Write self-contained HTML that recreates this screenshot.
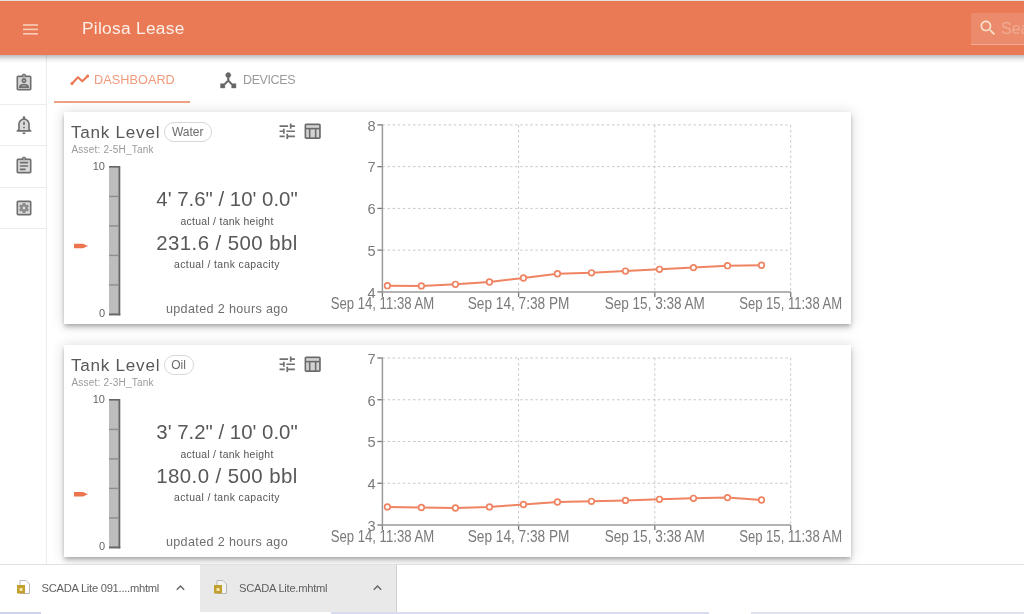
<!DOCTYPE html>
<html><head><meta charset="utf-8">
<style>
*{box-sizing:border-box;margin:0;padding:0}
html,body{width:1024px;height:614px;overflow:hidden;background:#fff;font-family:"Liberation Sans",sans-serif;color:#444}
.abs{position:absolute}
#topline{left:0;top:0;width:1024px;height:1px;background:#e4e1de;z-index:6}
#hdr{left:0;top:1px;width:1024px;height:54.4px;background:#ea7a56;z-index:5}
#hdrsh{left:-30px;top:1px;width:1084px;height:54.4px;background:#ea7a56;box-shadow:0 2px 4px -1px rgba(0,0,0,.18),0 4px 5px 0 rgba(0,0,0,.12),0 1px 10px 0 rgba(0,0,0,.10);z-index:4}
#title{left:82px;top:17.4px;font-size:17.3px;letter-spacing:.3px;color:#fcefe8;white-space:nowrap;line-height:20px}
#search{left:971px;top:12px;width:60px;height:31.6px;background:rgba(255,255,255,.13);border-radius:3px 3px 0 0;border-bottom:1.5px solid rgba(255,255,255,.28)}
#stext{left:1001px;top:18.7px;font-size:16px;color:rgba(255,255,255,.28);line-height:18px}
#side{left:0;top:55px;width:47px;height:509px;border-right:1px solid #ececec}
.sdiv{position:absolute;left:0;width:46px;height:1px;background:#ececec}
.card{position:absolute;left:64px;width:787px;height:213px;background:#fff;box-shadow:0 2px 4px -1px rgba(0,0,0,.2),0 4px 5px 0 rgba(0,0,0,.14),0 1px 12px 1px rgba(0,0,0,.14)}
.t{position:absolute;white-space:nowrap}
.ttl{left:7px;top:11.3px;font-size:17.1px;color:#585858;letter-spacing:.75px;line-height:20px}
.badge{left:99.5px;top:10.3px;width:48.5px;height:20px;border:1px solid #d8d8d8;border-radius:10px;font-size:12px;color:#6a6a6a;text-align:center;line-height:18px}
.asset{left:7.5px;top:32.2px;font-size:10px;color:#9a9a9a;letter-spacing:.2px;line-height:12px}
.big{left:63px;width:200px;text-align:center;font-size:20.4px;color:#585858;line-height:24px}
.small{left:63px;width:200px;text-align:center;font-size:10.4px;color:#555;line-height:12px;letter-spacing:.3px}
.upd{left:63px;width:200px;text-align:center;font-size:12.6px;color:#6e6e6e;line-height:14px;letter-spacing:.35px}
.glab{font-size:11px;color:#666;line-height:12px;text-align:right;width:20px}
#dl{left:0;top:564px;width:1024px;height:50px;background:#fff;border-top:1px solid #e0e0e0}
.dlt{font-size:11.2px;color:#606060;line-height:13px;letter-spacing:-.27px}
</style></head>
<body>
<div id="root" style="position:absolute;left:0;top:0;width:1024px;height:614px;overflow:hidden;filter:blur(0.5px)">
<div class="abs" id="topline"></div>
<div class="abs" id="hdrsh"></div>
<div class="abs" id="hdr">
  <svg class="abs" style="left:22.8px;top:21.85px" width="15.5" height="13" viewBox="0 0 15.5 13"><rect x="0" y="1.2" width="15.5" height="1.6" fill="#f8cdb8"/><rect x="0" y="5.6" width="15.5" height="1.6" fill="#f8cdb8"/><rect x="0" y="10" width="15.5" height="1.6" fill="#f8cdb8"/></svg>
  <div class="abs" id="title">Pilosa Lease</div>
  <div class="abs" id="search"></div>
  <svg class="abs" style="left:978px;top:16.5px" width="20" height="20" viewBox="0 0 24 24"><path fill="#fbe0cc" d="M15.5 14h-.79l-.28-.27C15.41 12.59 16 11.11 16 9.5 16 5.91 13.09 3 9.5 3S3 5.91 3 9.5 5.91 16 9.5 16c1.61 0 3.09-.59 4.23-1.57l.27.28v.79l5 4.99L20.49 19l-4.99-5zm-6 0C7.01 14 5 11.990 5 9.5S7.01 5 9.5 5 14 7.01 14 9.5 11.99 14 9.5 14z"/></svg>
  <div class="abs" id="stext">Sea</div>
</div>

<div class="abs" id="side">
  <div class="sdiv" style="top:49px"></div>
  <div class="sdiv" style="top:90px"></div>
  <div class="sdiv" style="top:132px"></div>
  <div class="sdiv" style="top:173px"></div>
</div>
<!-- sidebar icons -->
<svg class="abs" style="left:14px;top:73px" width="20" height="20" viewBox="0 0 24 24"><path fill="#d4d4d4" d="M5 5h14v14H5z"/><path fill="#6e6e6e" d="M19 3h-4.18C14.4 1.84 13.3 1 12 1s-2.4.84-2.82 2H5c-1.1 0-2 .9-2 2v14c0 1.1.9 2 2 2h14c1.1 0 2-.9 2-2V5c0-1.1-.9-2-2-2zm-7-.25c.41 0 .75.34.75.75s-.34.75-.75.75-.75-.34-.75-.75.34-.75.75-.75zM19 19H5V5h14v14zM12 12c1.65 0 3-1.35 3-3s-1.35-3-3-3-3 1.35-3 3 1.35 3 3 3zm0-4c.55 0 1 .45 1 1s-.45 1-1 1-1-.45-1-1 .45-1 1-1zm6 8.58c0-2.5-3.97-3.58-6-3.58s-6 1.08-6 3.58V18h12v-1.42zM8.480 16c.74-.51 2.23-1 3.52-1s2.78.49 3.52 1H8.48z"/></svg>
<svg class="abs" style="left:14px;top:115.3px" width="20" height="20" viewBox="0 0 24 24"><path fill="#dadada" d="M12 6c2.76 0 5 2.24 5 5v7H7v-7c0-2.76 2.24-5 5-5z"/><path fill="#6e6e6e" d="M10.01 21.01c0 1.1.89 1.99 1.99 1.99s1.99-.89 1.99-1.990h-3.98zM12 6c2.76 0 5 2.24 5 5v7H7v-7c0-2.76 2.24-5 5-5zm0-4.5c-.83 0-1.5.67-1.5 1.5v1.17C7.36 4.85 5 7.65 5 11v6l-2 2v1h18v-1l-2-2v-6c0-3.35-2.36-6.150-5.5-6.830V3c0-.83-.67-1.5-1.5-1.5zM11 8h2v4h-2zm0 6h2v2h-2z"/></svg>
<svg class="abs" style="left:14px;top:156px" width="20" height="20" viewBox="0 0 24 24"><path fill="#dadada" d="M5 5h14v14H5z"/><path fill="#6e6e6e" d="M7 15h7v2H7zm0-4h10v2H7zm0-4h10v2H7zm12-4h-4.18C14.4 1.84 13.3 1 12 1c-1.3 0-2.4.84-2.82 2H5c-1.1 0-2 .9-2 2v14c0 1.1.9 2 2 2h14c1.1 0 2-.9 2-2V5c0-1.1-.9-2-2-2zm-7-.25c.41 0 .75.34.75.75s-.34.75-.75.75-.75-.34-.75-.75.34-.75.75-.75zM19 19H5V5h14v14z"/></svg>
<svg class="abs" style="left:14px;top:197.5px" width="20" height="20" viewBox="0 0 24 24"><path fill="#dadada" d="M5 5h14v14H5z"/><path fill="#8a8a8a" d="M6.21 13.97l1.2 2.07c.08.13.23.18.37.13l1.49-.6c.31.24.64.44 1.01.59l.22 1.59c.03.14.15.25.3.25h2.4c.15 0 .27-.11.3-.26l.22-1.59c.36-.15.7-.35 1.01-.59l1.49.6c.14.05.29 0 .37-.13l1.2-2.07c.08-.13.04-.29-.07-.39l-1.27-.99c.03-.19.04-.39.04-.58 0-.2-.02-.39-.04-.59l1.27-.99c.11-.09.15-.26.07-.39l-1.2-2.07c-.08-.13-.23-.18-.37-.13l-1.49.6c-.31-.24-.64-.44-1.01-.59l-.22-1.59c-.03-.14-.15-.25-.3-.25h-2.4c-.15 0-.27.11-.3.26l-.22 1.59c-.36.15-.71.34-1.01.58l-1.49-.6c-.14-.05-.29 0-.37.13l-1.2 2.07c-.08.13-.04.29.07.39l1.27.99c-.03.2-.05.39-.05.59 0 .2.02.39.04.59l-1.27.99c-.11.1-.14.26-.06.39zM12 10.29c.94 0 1.71.77 1.71 1.71s-.77 1.71-1.71 1.71-1.71-.77-1.71-1.71.77-1.71 1.710-1.71z"/><path fill="#6e6e6e" d="M19 3H5c-1.11 0-2 .9-2 2v14c0 1.1.89 2 2 2h14c1.11 0 2-.9 2-2V5c0-1.1-.89-2-2-2zm0 16H5V5h14v14z"/></svg>

<!-- tabs -->
<svg class="abs" style="left:0;top:0" width="100" height="100"><path d="M72 83.4L78 77.3 82.3 81.2 87.7 76" fill="none" stroke="#ec7652" stroke-width="2.1" stroke-linecap="round" stroke-linejoin="round"/><circle cx="72" cy="83.4" r="1.5" fill="#ec7652"/><circle cx="87.7" cy="76" r="1.5" fill="#ec7652"/></svg>
<div class="t" style="left:94px;top:73px;font-size:12.7px;color:#f09a7c;line-height:14px;letter-spacing:.05px">DASHBOARD</div>
<div class="abs" style="left:54px;top:100.9px;width:136px;height:2.2px;background:#f0a083"></div>
<svg class="abs" style="left:218.4px;top:69.8px" width="20.5" height="20.5" viewBox="0 0 24 24"><path fill="#666" stroke="#666" stroke-width=".5" d="M17 16l-4-4V8.82C14.16 8.4 15 7.3 15 6c0-1.66-1.34-3-3-3S9 4.34 9 6c0 1.3.84 2.4 2 2.82V12l-4 4H3v5h5v-3.05l4-4.2 4 4.2V21h5v-5h-4z"/></svg>
<div class="t" style="left:243px;top:73px;font-size:12.5px;color:#9a9a9a;line-height:14px;letter-spacing:-.4px">DEVICES</div>

<!-- CARD 1 -->
<div class="card" style="top:111.8px;height:212.5px">
  <div class="t ttl">Tank Level</div>
  <div class="t badge">Water</div>
  <div class="t asset">Asset: 2-5H_Tank</div>
  <svg class="abs" style="left:213px;top:9.5px" width="20.5" height="20.5" viewBox="0 0 24 24"><path fill="#707070" d="M3 17v2h6v-2H3zM3 5v2h10V5H3zm10 16v-2h8v-2h-8v-2h-2v6h2zM7 9v2H3v2h4v2h2V9H7zm14 4v-2H11v2h10zm-6-4h2V7h4V5h-4V3h-2v6z"/></svg>
  <svg class="abs" style="left:238px;top:9.5px" width="20.5" height="20.5" viewBox="0 0 24 24"><path fill="#d2d2d2" d="M5 5h15v3H5zm0 5h3v9H5zm5 0h5v9h-5zm7 0h3v9h-3z"/><path fill="#6a6a6a" d="M20 3H5c-1.1 0-2 .9-2 2v14c0 1.1.9 2 2 2h15c1.1 0 2-.9 2-2V5c0-1.1-.9-2-2-2zm0 2v3H5V5h15zm-5 14h-5v-9h5v9zM5 10h3v9H5v-9zm12 9v-9h3v9h-3z"/></svg>
  <!-- gauge -->
  <div class="t glab" style="left:21px;top:48.5px">10</div>
  <div class="t glab" style="left:21px;top:195.5px">0</div>
  <svg class="abs" style="left:0;top:0" width="60" height="213"><rect x="45" y="54.5" width="11" height="149" fill="#bdbdbd"/><rect x="45" y="54" width="11" height="1.6" fill="#666"/><rect x="45" y="201.5" width="11.3" height="1.8" fill="#666"/><rect x="54.5" y="54" width="1.8" height="149.3" fill="#666"/><g fill="#8e8e8e"><rect x="45" y="83.7" width="10" height="1.4"/><rect x="45" y="113.2" width="10" height="1.4"/><rect x="45" y="142.7" width="10" height="1.4"/><rect x="45" y="172.2" width="10" height="1.4"/></g><path d="M10 131.8h9l5 2.2-5 2.2h-9z" fill="#ec7550"/></svg>
  <div class="t big" style="top:75.7px">4' 7.6" / 10' 0.0"</div>
  <div class="t small" style="top:104px">actual / tank height</div>
  <div class="t big" style="top:119px;letter-spacing:.45px">231.6 / 500 bbl</div>
  <div class="t small" style="top:147px;letter-spacing:.4px">actual / tank capacity</div>
  <div class="t upd" style="top:190.5px">updated 2 hours ago</div>
</div>

<!-- CARD 2 -->
<div class="card" style="top:344.6px;height:212.5px">
  <div class="t ttl">Tank Level</div>
  <div class="t badge" style="width:30px">Oil</div>
  <div class="t asset">Asset: 2-3H_Tank</div>
  <svg class="abs" style="left:213px;top:9.5px" width="20.5" height="20.5" viewBox="0 0 24 24"><path fill="#707070" d="M3 17v2h6v-2H3zM3 5v2h10V5H3zm10 16v-2h8v-2h-8v-2h-2v6h2zM7 9v2H3v2h4v2h2V9H7zm14 4v-2H11v2h10zm-6-4h2V7h4V5h-4V3h-2v6z"/></svg>
  <svg class="abs" style="left:238px;top:9.5px" width="20.5" height="20.5" viewBox="0 0 24 24"><path fill="#d2d2d2" d="M5 5h15v3H5zm0 5h3v9H5zm5 0h5v9h-5zm7 0h3v9h-3z"/><path fill="#6a6a6a" d="M20 3H5c-1.1 0-2 .9-2 2v14c0 1.1.9 2 2 2h15c1.1 0 2-.9 2-2V5c0-1.1-.9-2-2-2zm0 2v3H5V5h15zm-5 14h-5v-9h5v9zM5 10h3v9H5v-9zm12 9v-9h3v9h-3z"/></svg>
  <div class="t glab" style="left:21px;top:48.5px">10</div>
  <div class="t glab" style="left:21px;top:195.5px">0</div>
  <svg class="abs" style="left:0;top:0" width="60" height="213"><rect x="45" y="54.5" width="11" height="149" fill="#bdbdbd"/><rect x="45" y="54" width="11" height="1.6" fill="#666"/><rect x="45" y="201.5" width="11.3" height="1.8" fill="#666"/><rect x="54.5" y="54" width="1.8" height="149.3" fill="#666"/><g fill="#8e8e8e"><rect x="45" y="83.7" width="10" height="1.4"/><rect x="45" y="113.2" width="10" height="1.4"/><rect x="45" y="142.7" width="10" height="1.4"/><rect x="45" y="172.2" width="10" height="1.4"/></g><path d="M10 147.1h9l5 2.2-5 2.2h-9z" fill="#ec7550"/></svg>
  <div class="t big" style="top:75.7px">3' 7.2" / 10' 0.0"</div>
  <div class="t small" style="top:104px">actual / tank height</div>
  <div class="t big" style="top:119px;letter-spacing:.45px">180.0 / 500 bbl</div>
  <div class="t small" style="top:147px;letter-spacing:.4px">actual / tank capacity</div>
  <div class="t upd" style="top:190.5px">updated 2 hours ago</div>
</div>

<!-- CHARTS (page coords) -->
<svg class="abs" style="left:0;top:0;z-index:2" width="1024" height="614" id="charts"><g><line x1="377.4" y1="291.9" x2="382.4" y2="291.9" stroke="#777" stroke-width="1.3"></line><text x="375.7" y="297.7" text-anchor="end" font-size="14.6" fill="#7a7a7a" font-family="Liberation Sans">4</text><line x1="382.4" y1="250.15" x2="790.7" y2="250.15" stroke="#c8c8c8" stroke-width="1" stroke-dasharray="2.5,2.6"></line><line x1="377.4" y1="250.15" x2="382.4" y2="250.15" stroke="#777" stroke-width="1.3"></line><text x="375.7" y="255.95" text-anchor="end" font-size="14.6" fill="#7a7a7a" font-family="Liberation Sans">5</text><line x1="382.4" y1="208.4" x2="790.7" y2="208.4" stroke="#c8c8c8" stroke-width="1" stroke-dasharray="2.5,2.6"></line><line x1="377.4" y1="208.4" x2="382.4" y2="208.4" stroke="#777" stroke-width="1.3"></line><text x="375.7" y="214.2" text-anchor="end" font-size="14.6" fill="#7a7a7a" font-family="Liberation Sans">6</text><line x1="382.4" y1="166.65" x2="790.7" y2="166.65" stroke="#c8c8c8" stroke-width="1" stroke-dasharray="2.5,2.6"></line><line x1="377.4" y1="166.65" x2="382.4" y2="166.65" stroke="#777" stroke-width="1.3"></line><text x="375.7" y="172.45" text-anchor="end" font-size="14.6" fill="#7a7a7a" font-family="Liberation Sans">7</text><line x1="382.4" y1="124.9" x2="790.7" y2="124.9" stroke="#c8c8c8" stroke-width="1" stroke-dasharray="2.5,2.6"></line><line x1="377.4" y1="124.9" x2="382.4" y2="124.9" stroke="#777" stroke-width="1.3"></line><text x="375.7" y="130.7" text-anchor="end" font-size="14.6" fill="#7a7a7a" font-family="Liberation Sans">8</text><line x1="382.4" y1="291.9" x2="382.4" y2="296.9" stroke="#777" stroke-width="1.3"></line><text x="330.65" y="308.7" font-size="15.8" fill="#7a7a7a" font-family="Liberation Sans" textLength="103.5" lengthAdjust="spacingAndGlyphs">Sep 14, 11:38 AM</text><line x1="518.6" y1="124.9" x2="518.6" y2="291.9" stroke="#c8c8c8" stroke-width="1" stroke-dasharray="2.5,2.6"></line><line x1="518.6" y1="291.9" x2="518.6" y2="296.9" stroke="#777" stroke-width="1.3"></line><text x="467.7" y="308.7" font-size="15.8" fill="#7a7a7a" font-family="Liberation Sans" textLength="101.8" lengthAdjust="spacingAndGlyphs">Sep 14, 7:38 PM</text><line x1="654.8" y1="124.9" x2="654.8" y2="291.9" stroke="#c8c8c8" stroke-width="1" stroke-dasharray="2.5,2.6"></line><line x1="654.8" y1="291.9" x2="654.8" y2="296.9" stroke="#777" stroke-width="1.3"></line><text x="604.7" y="308.7" font-size="15.8" fill="#7a7a7a" font-family="Liberation Sans" textLength="100.2" lengthAdjust="spacingAndGlyphs">Sep 15, 3:38 AM</text><line x1="790.7" y1="124.9" x2="790.7" y2="291.9" stroke="#c8c8c8" stroke-width="1" stroke-dasharray="2.5,2.6"></line><line x1="790.7" y1="291.9" x2="790.7" y2="296.9" stroke="#777" stroke-width="1.3"></line><text x="739.2" y="308.7" font-size="15.8" fill="#7a7a7a" font-family="Liberation Sans" textLength="103" lengthAdjust="spacingAndGlyphs">Sep 15, 11:38 AM</text><line x1="382.4" y1="124.4" x2="382.4" y2="292.6" stroke="#9a9a9a" stroke-width="1.5"></line><line x1="381.7" y1="291.9" x2="790.7" y2="291.9" stroke="#9a9a9a" stroke-width="1.5"></line><path d="M387.40 285.7L421.41 285.9L455.42 284.3L489.43 282L523.44 278L557.45 273.75L591.46 272.8L625.47 271.05L659.48 269.3L693.49 267.6L727.50 265.7L761.51 265.25" fill="none" stroke="#ef8462" stroke-width="2" stroke-linejoin="round"></path><circle cx="387.4" cy="285.7" r="2.8" fill="#fff" stroke="#ef8462" stroke-width="1.7"></circle><circle cx="421.41" cy="285.9" r="2.8" fill="#fff" stroke="#ef8462" stroke-width="1.7"></circle><circle cx="455.42" cy="284.3" r="2.8" fill="#fff" stroke="#ef8462" stroke-width="1.7"></circle><circle cx="489.43" cy="282" r="2.8" fill="#fff" stroke="#ef8462" stroke-width="1.7"></circle><circle cx="523.44" cy="278" r="2.8" fill="#fff" stroke="#ef8462" stroke-width="1.7"></circle><circle cx="557.45" cy="273.75" r="2.8" fill="#fff" stroke="#ef8462" stroke-width="1.7"></circle><circle cx="591.46" cy="272.8" r="2.8" fill="#fff" stroke="#ef8462" stroke-width="1.7"></circle><circle cx="625.47" cy="271.05" r="2.8" fill="#fff" stroke="#ef8462" stroke-width="1.7"></circle><circle cx="659.48" cy="269.3" r="2.8" fill="#fff" stroke="#ef8462" stroke-width="1.7"></circle><circle cx="693.49" cy="267.6" r="2.8" fill="#fff" stroke="#ef8462" stroke-width="1.7"></circle><circle cx="727.5" cy="265.7" r="2.8" fill="#fff" stroke="#ef8462" stroke-width="1.7"></circle><circle cx="761.51" cy="265.25" r="2.8" fill="#fff" stroke="#ef8462" stroke-width="1.7"></circle></g><g><line x1="377.4" y1="525" x2="382.4" y2="525" stroke="#777" stroke-width="1.3"></line><text x="375.7" y="530.8" text-anchor="end" font-size="14.6" fill="#7a7a7a" font-family="Liberation Sans">3</text><line x1="382.4" y1="483.25" x2="790.7" y2="483.25" stroke="#c8c8c8" stroke-width="1" stroke-dasharray="2.5,2.6"></line><line x1="377.4" y1="483.25" x2="382.4" y2="483.25" stroke="#777" stroke-width="1.3"></line><text x="375.7" y="489.05" text-anchor="end" font-size="14.6" fill="#7a7a7a" font-family="Liberation Sans">4</text><line x1="382.4" y1="441.5" x2="790.7" y2="441.5" stroke="#c8c8c8" stroke-width="1" stroke-dasharray="2.5,2.6"></line><line x1="377.4" y1="441.5" x2="382.4" y2="441.5" stroke="#777" stroke-width="1.3"></line><text x="375.7" y="447.3" text-anchor="end" font-size="14.6" fill="#7a7a7a" font-family="Liberation Sans">5</text><line x1="382.4" y1="399.75" x2="790.7" y2="399.75" stroke="#c8c8c8" stroke-width="1" stroke-dasharray="2.5,2.6"></line><line x1="377.4" y1="399.75" x2="382.4" y2="399.75" stroke="#777" stroke-width="1.3"></line><text x="375.7" y="405.55" text-anchor="end" font-size="14.6" fill="#7a7a7a" font-family="Liberation Sans">6</text><line x1="382.4" y1="358" x2="790.7" y2="358" stroke="#c8c8c8" stroke-width="1" stroke-dasharray="2.5,2.6"></line><line x1="377.4" y1="358" x2="382.4" y2="358" stroke="#777" stroke-width="1.3"></line><text x="375.7" y="363.8" text-anchor="end" font-size="14.6" fill="#7a7a7a" font-family="Liberation Sans">7</text><line x1="382.4" y1="525" x2="382.4" y2="530" stroke="#777" stroke-width="1.3"></line><text x="330.65" y="541.8" font-size="15.8" fill="#7a7a7a" font-family="Liberation Sans" textLength="103.5" lengthAdjust="spacingAndGlyphs">Sep 14, 11:38 AM</text><line x1="518.6" y1="358" x2="518.6" y2="525" stroke="#c8c8c8" stroke-width="1" stroke-dasharray="2.5,2.6"></line><line x1="518.6" y1="525" x2="518.6" y2="530" stroke="#777" stroke-width="1.3"></line><text x="467.7" y="541.8" font-size="15.8" fill="#7a7a7a" font-family="Liberation Sans" textLength="101.8" lengthAdjust="spacingAndGlyphs">Sep 14, 7:38 PM</text><line x1="654.8" y1="358" x2="654.8" y2="525" stroke="#c8c8c8" stroke-width="1" stroke-dasharray="2.5,2.6"></line><line x1="654.8" y1="525" x2="654.8" y2="530" stroke="#777" stroke-width="1.3"></line><text x="604.7" y="541.8" font-size="15.8" fill="#7a7a7a" font-family="Liberation Sans" textLength="100.2" lengthAdjust="spacingAndGlyphs">Sep 15, 3:38 AM</text><line x1="790.7" y1="358" x2="790.7" y2="525" stroke="#c8c8c8" stroke-width="1" stroke-dasharray="2.5,2.6"></line><line x1="790.7" y1="525" x2="790.7" y2="530" stroke="#777" stroke-width="1.3"></line><text x="739.2" y="541.8" font-size="15.8" fill="#7a7a7a" font-family="Liberation Sans" textLength="103" lengthAdjust="spacingAndGlyphs">Sep 15, 11:38 AM</text><line x1="382.4" y1="357.5" x2="382.4" y2="525.7" stroke="#9a9a9a" stroke-width="1.5"></line><line x1="381.7" y1="525" x2="790.7" y2="525" stroke="#9a9a9a" stroke-width="1.5"></line><path d="M387.40 506.9L421.41 507.5L455.42 508L489.43 506.9L523.44 504.5L557.45 502L591.46 501.3L625.47 500.4L659.48 499.3L693.49 498.3L727.50 497.6L761.51 500" fill="none" stroke="#ef8462" stroke-width="2" stroke-linejoin="round"></path><circle cx="387.4" cy="506.9" r="2.8" fill="#fff" stroke="#ef8462" stroke-width="1.7"></circle><circle cx="421.41" cy="507.5" r="2.8" fill="#fff" stroke="#ef8462" stroke-width="1.7"></circle><circle cx="455.42" cy="508" r="2.8" fill="#fff" stroke="#ef8462" stroke-width="1.7"></circle><circle cx="489.43" cy="506.9" r="2.8" fill="#fff" stroke="#ef8462" stroke-width="1.7"></circle><circle cx="523.44" cy="504.5" r="2.8" fill="#fff" stroke="#ef8462" stroke-width="1.7"></circle><circle cx="557.45" cy="502" r="2.8" fill="#fff" stroke="#ef8462" stroke-width="1.7"></circle><circle cx="591.46" cy="501.3" r="2.8" fill="#fff" stroke="#ef8462" stroke-width="1.7"></circle><circle cx="625.47" cy="500.4" r="2.8" fill="#fff" stroke="#ef8462" stroke-width="1.7"></circle><circle cx="659.48" cy="499.3" r="2.8" fill="#fff" stroke="#ef8462" stroke-width="1.7"></circle><circle cx="693.49" cy="498.3" r="2.8" fill="#fff" stroke="#ef8462" stroke-width="1.7"></circle><circle cx="727.5" cy="497.6" r="2.8" fill="#fff" stroke="#ef8462" stroke-width="1.7"></circle><circle cx="761.51" cy="500" r="2.8" fill="#fff" stroke="#ef8462" stroke-width="1.7"></circle></g></svg>

<!-- download bar -->
<div class="abs" id="dl"></div>
<div class="abs" style="left:200px;top:565px;width:197px;height:47px;background:#e9e9e9;border-right:1px solid #d0d0d0"></div>
<div class="abs" style="left:0;top:612px;width:41px;height:2px;background:#cfd3ea"></div>
<div class="abs" style="left:331px;top:612px;width:378px;height:2px;background:#d8dcee"></div>
<div class="abs" style="left:751px;top:612px;width:273px;height:2px;background:#dfe2ef"></div>
<svg class="abs" style="left:16px;top:580px" width="15" height="14" viewBox="0 0 15 14"><path d="M4 0.5h6l3.5 3.5v9.5h-9.5z" fill="#fff" stroke="#b8b8b8"/><rect x="1" y="5" width="8" height="8.5" fill="#c1a030"/><rect x="3.5" y="8" width="3" height="3" fill="#f3e6a8"/></svg>
<div class="t dlt" style="left:41.5px;top:582px">SCADA Lite 091....mhtml</div>
<svg class="abs" style="left:176px;top:584px" width="9" height="7" viewBox="0 0 9 7"><path d="M0.8 5.8L4.5 2 8.2 5.8" fill="none" stroke="#666" stroke-width="1.4"/></svg>
<svg class="abs" style="left:213px;top:580px" width="15" height="14" viewBox="0 0 15 14"><path d="M4 0.5h6l3.5 3.5v9.5h-9.5z" fill="#f2f2f2" stroke="#b8b8b8"/><rect x="1" y="5" width="8" height="8.5" fill="#c1a030"/><rect x="3.5" y="8" width="3" height="3" fill="#f3e6a8"/></svg>
<div class="t dlt" style="left:239px;top:582px">SCADA Lite.mhtml</div>
<svg class="abs" style="left:373px;top:584px" width="9" height="7" viewBox="0 0 9 7"><path d="M0.8 5.8L4.5 2 8.2 5.8" fill="none" stroke="#666" stroke-width="1.4"/></svg>

</div>

</body></html>
